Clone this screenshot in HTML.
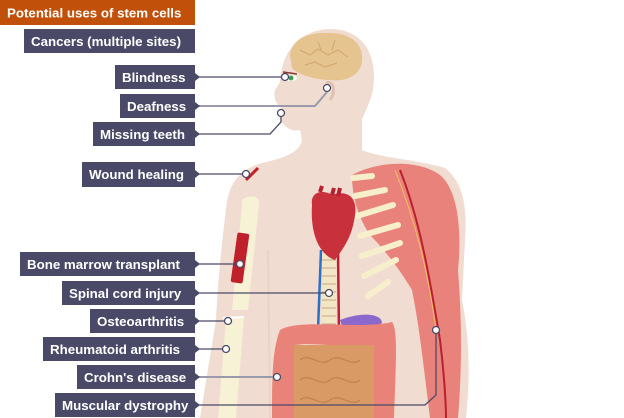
<!DOCTYPE html>
<html><head><meta charset="utf-8"><style>
body{margin:0;background:#fff;width:624px;height:418px;overflow:hidden}
svg{display:block}
text{font-family:"Liberation Sans",sans-serif;font-weight:bold;font-size:13.3px;fill:#fff}
</style></head><body>
<svg width="624" height="418" viewBox="0 0 624 418">
<path d="M300 130 C292 132 284 128 280 118 L281 108 C276 104 273 96 275 90 L280 82 C282 50 300 30 330 29 C360 29 375 50 374 80 C373 100 365 110 362 120 L362 150 C380 158 420 160 445 168 C460 180 468 200 465 240 L462 300 C470 340 470 380 466 418 L200 418 L216 320 C218 280 222 240 226 210 C228 185 238 170 262 163 C285 158 300 152 302 140 Z" fill="#f0dcd0"/>
<path d="M268 250 L270 418" stroke="#ead3c5" stroke-width="2" fill="none"/>
<path d="M290 55 C292 38 310 32 330 33 C352 33 364 45 362 62 C360 76 345 82 330 80 C318 80 300 76 292 68 Z" fill="#e6c48f"/>
<path d="M300 50 l10 5 l8 -6 l10 6 l10 -5 l10 7 M305 65 l10 -3 l10 5 l12 -4 M335 40 l-3 10 M318 42 l3 8" stroke="#cfa56d" stroke-width="1" fill="none"/>
<path d="M283 72 l14 2" stroke="#8a3a2a" stroke-width="1.5"/>
<ellipse cx="290" cy="78" rx="7" ry="3" fill="#fff"/><circle cx="291" cy="78" r="2.5" fill="#3aa050"/>
<path d="M326 83 C334 80 336 92 330 100" stroke="#e0c0b0" stroke-width="3" fill="none"/>
<path d="M352 175 C380 160 420 160 440 175 C458 190 462 230 458 270 C462 320 462 370 458 418 L430 418 C424 370 420 330 412 290 C400 270 385 250 370 235 C360 220 352 200 352 175 Z" fill="#e9827a"/>
<path d="M400 170 C420 220 430 280 440 340 C445 380 446 410 446 418" stroke="#b82030" stroke-width="2" fill="none"/>
<path d="M395 170 C415 220 428 270 436 330" stroke="#f2c060" stroke-width="1" fill="none"/>
<g stroke="#f7efcc" stroke-width="6" stroke-linecap="round" fill="none">
<path d="M353 178 L372 176"/><path d="M355 196 L385 190"/><path d="M357 216 L393 205"/><path d="M360 236 L398 225"/><path d="M362 256 L400 243"/><path d="M364 276 L396 260"/><path d="M368 296 L388 282"/>
</g>
<path d="M246 180 L258 168" stroke="#c0202a" stroke-width="3"/>
<path d="M242 205 C238 195 262 192 259 205 L248 310 L232 310 Z" fill="#f7f1d6"/>
<rect x="234" y="233" width="12" height="50" rx="2" fill="#c0202a" transform="rotate(8 240 258)"/>
<path d="M226 318 L244 318 L236 418 L218 418 Z" fill="#f7f1d6"/>
<path d="M223 318 L244 317" stroke="#fff" stroke-width="2"/>
<rect x="322" y="250" width="14" height="110" fill="#f3e6c4"/>
<g stroke="#9a6a5a" stroke-width="0.6">
<path d="M322 260h14M322 268h14M322 276h14M322 284h14M322 292h14M322 300h14M322 308h14M322 316h14M322 324h14M322 332h14M322 340h14M322 348h14"/>
</g>
<path d="M321 250 L318 330" stroke="#2d6fc8" stroke-width="2.5"/>
<path d="M338 250 L340 418" stroke="#c0202a" stroke-width="2.5"/>
<path d="M312 205 C310 190 325 190 332 195 C345 190 358 195 355 215 C352 240 340 252 335 260 C320 255 310 235 312 205 Z" fill="#c8303c"/>
<path d="M320 192 L322 186 M332 195 L334 188 M338 196 L340 188" stroke="#b82030" stroke-width="4"/>
<path d="M340 320 C360 312 380 313 382 322 C376 335 360 337 345 335 Z" fill="#8a68cc"/>
<path d="M280 330 C300 318 360 330 392 322 C398 330 396 360 394 418 L372 418 L374 345 C340 348 310 342 296 345 L294 418 L272 418 C272 380 272 350 280 330 Z" fill="#e98278"/>
<rect x="294" y="345" width="80" height="73" fill="#d99a66"/>
<path d="M300 360 c10 -8 20 8 30 0 c10 -8 20 8 30 0 M300 380 c10 -8 20 8 30 0 c10 -8 20 8 30 0 M300 400 c10 -8 20 8 30 0 c10 -8 20 8 30 0" stroke="#c58050" stroke-width="1.2" fill="none"/>
<g stroke="#4a4a68" stroke-width="1.3" fill="none">
<path d="M195 77 H285"/>
<path d="M195 106 H315 L327 92" stroke="#9a9aac" stroke-width="2"/>
<path d="M195 134 H270 L281 122 V113"/>
<path d="M195 174 H246"/>
<path d="M195 264 H240"/>
<path d="M195 293 H329"/>
<path d="M195 321 H228"/>
<path d="M195 349 H226"/>
<path d="M195 377 H277" stroke="#9a9aac" stroke-width="2"/>
<path d="M195 405 H425 L436 395 V330"/>
</g>
<g fill="#fff" stroke="#4a4a68" stroke-width="1.3">
<circle cx="285" cy="77" r="3.5"/><circle cx="327" cy="88" r="3.5"/><circle cx="281" cy="113" r="3.5"/>
<circle cx="246" cy="174" r="3.5"/><circle cx="240" cy="264" r="3.5"/><circle cx="329" cy="293" r="3.5"/>
<circle cx="228" cy="321" r="3.5"/><circle cx="226" cy="349" r="3.5"/><circle cx="277" cy="377" r="3.5"/>
<circle cx="436" cy="330" r="3.5"/>
</g>
<rect x="0" y="0" width="195" height="25" fill="#c0500a"/>
<text x="7" y="17.5">Potential uses of stem cells</text>
<g fill="#4a4a68">
<rect x="24" y="29" width="171" height="24"/>
<rect x="115" y="65" width="80" height="24"/><path d="M195 73 L200 77 L195 81Z"/>
<rect x="120" y="94" width="75" height="24"/><path d="M195 102 L200 106 L195 110Z"/>
<rect x="93" y="122" width="102" height="24"/><path d="M195 130 L200 134 L195 138Z"/>
<rect x="82" y="162" width="113" height="25"/><path d="M195 170 L200 174 L195 178Z"/>
<rect x="20" y="252" width="175" height="24"/><path d="M195 260 L200 264 L195 268Z"/>
<rect x="62" y="281" width="133" height="24"/><path d="M195 289 L200 293 L195 297Z"/>
<rect x="90" y="309" width="105" height="24"/><path d="M195 317 L200 321 L195 325Z"/>
<rect x="43" y="337" width="152" height="24"/><path d="M195 345 L200 349 L195 353Z"/>
<rect x="77" y="365" width="118" height="24"/><path d="M195 373 L200 377 L195 381Z"/>
<rect x="55" y="393" width="140" height="24"/><path d="M195 401 L200 405 L195 409Z"/>
</g>
<text x="31" y="46">Cancers (multiple sites)</text>
<text x="122" y="82">Blindness</text>
<text x="127" y="111">Deafness</text>
<text x="100" y="139">Missing teeth</text>
<text x="89" y="179">Wound healing</text>
<text x="27" y="269">Bone marrow transplant</text>
<text x="69" y="298">Spinal cord injury</text>
<text x="97" y="326">Osteoarthritis</text>
<text x="50" y="354">Rheumatoid arthritis</text>
<text x="84" y="382">Crohn's disease</text>
<text x="62" y="410">Muscular dystrophy</text>
</svg>
</body></html>
